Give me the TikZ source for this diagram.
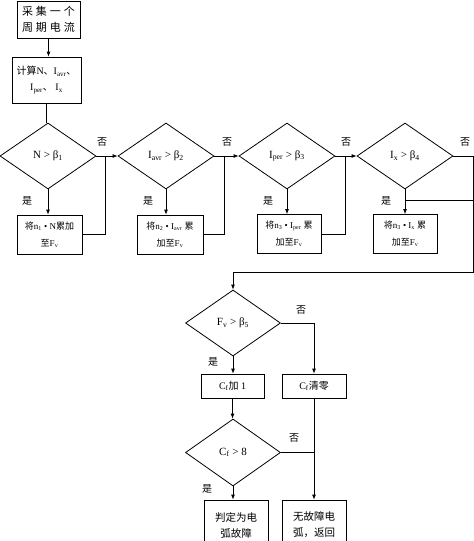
\documentclass[tikz,border=0pt]{standalone}
\usepackage{fontspec}
\setmainfont{Liberation Serif}
\newfontfamily\cjk{Noto Sans CJK SC}
\usetikzlibrary{shapes.geometric,arrows.meta}
\newcommand{\zh}[1]{{\cjk #1}}
\begin{document}
\begin{tikzpicture}[x=1pt,y=-1pt,
  every path/.style={line width=0.8pt},
  box/.style={draw, line width=0.8pt, inner sep=0pt, align=center},
  dia/.style={draw, diamond, minimum width=96pt, minimum height=66pt, inner sep=0pt, line width=0.8pt, font=\fontsize{11}{13}\selectfont},
  acc/.style={box, minimum width=65pt, minimum height=39pt, font=\fontsize{9}{17}\selectfont},
  lab/.style={font=\fontsize{10}{12}\selectfont\cjk, inner sep=0pt},
  arr/.style={-{Latex[length=5pt,width=4pt]}}]
\useasboundingbox (0,0) rectangle (474,541);
% top boxes
\node[box, minimum width=63pt, minimum height=37pt, font=\fontsize{11}{16}\selectfont] (b1) at (48.5,19.5)
  {\zh{采\hspace{3pt}集\hspace{3pt}一\hspace{3pt}个}\\\zh{周\hspace{3pt}期\hspace{3pt}电\hspace{3pt}流}};
\node[box, minimum width=69pt, minimum height=46pt, font=\fontsize{10}{16}\selectfont] (b2) at (46.5,80)
  {\zh{计算}N\zh{、}I\textsubscript{avr}\zh{、}\\I\textsubscript{per}\zh{、} I\textsubscript{x}};
% diamonds row
\node[dia] (d1) at (48,156) {N > β\textsubscript{1}};
\node[dia] (d2) at (166,156) {I\textsubscript{avr} > β\textsubscript{2}};
\node[dia] (d3) at (287,156) {I\textsubscript{per} > β\textsubscript{3}};
\node[dia] (d4) at (405,156) {I\textsubscript{x} > β\textsubscript{4}};
% accumulate boxes
\node[acc] (a1) at (49.5,234.5) {\zh{将}n\textsubscript{1} • N\zh{累加}\\\zh{至}F\textsubscript{v}};
\node[acc, minimum width=66pt] (a2) at (170,234.5) {\zh{将}n\textsubscript{2} • I\textsubscript{avr} \zh{累}\\\zh{加至}F\textsubscript{v}};
\node[acc, minimum width=64pt] (a3) at (289,234) {\zh{将}n\textsubscript{3} • I\textsubscript{per} \zh{累}\\\zh{加至}F\textsubscript{v}};
\node[acc, minimum width=64pt] (a4) at (405,234) {\zh{将}n\textsubscript{3} • I\textsubscript{x} \zh{累}\\\zh{加至}F\textsubscript{v}};
% lower part
\node[dia, minimum width=95pt] (d5) at (233,323) {F\textsubscript{v} > β\textsubscript{5}};
\node[box, minimum width=63pt, minimum height=24pt, font=\fontsize{10}{12}\selectfont] (c1) at (232.5,386) {C\textsubscript{f}\zh{加} 1};
\node[box, minimum width=64pt, minimum height=24pt, font=\fontsize{10}{12}\selectfont] (c2) at (314,386) {C\textsubscript{f}\zh{清零}};
\node[dia, minimum width=95pt, minimum height=67pt] (d6) at (233,452.5) {C\textsubscript{f} > 8};
\node[box, minimum width=64pt, minimum height=50pt, font=\fontsize{10.5}{16}\selectfont] (e1) at (236,525) {\zh{判定为电}\\\zh{弧故障}};
\node[box, minimum width=64pt, minimum height=50pt, font=\fontsize{10.5}{16}\selectfont] (e2) at (314,525) {\zh{无故障电}\\\zh{弧，返回}};
% junction coordinates
\coordinate (j1) at (105,156);
\coordinate (j2) at (224,156);
\coordinate (j3) at (345,156);
\coordinate (r1) at (473,156);
\coordinate (r2) at (473,272);
\coordinate (r3) at (233,272);
\coordinate (k4) at (405,200);
\coordinate (k4r) at (473,200);
% connectors
\draw[arr] (b1.south) -- (b1.south |- b2.north);
\draw (b2.south) -- (b2.south |- d1.north);
\draw[arr] (d1.east) -- (d2.west);
\draw[arr] (d2.east) -- (d3.west);
\draw[arr] (d3.east) -- (d4.west);
\draw (d4.east) -- (r1) -- (r2) -- (r3);
\draw[arr] (r3) -- (d5.north);
\draw (a1.east) -| (j1);
\draw (a2.east) -| (j2);
\draw (a3.east) -| (j3);
\draw (k4) -- (k4r);
\draw[arr] (d1.south) -- (d1.south |- a1.north);
\draw[arr] (d2.south) -- (d2.south |- a2.north);
\draw[arr] (d3.south) -- (d3.south |- a3.north);
\draw[arr] (d4.south) -- (d4.south |- a4.north);
\draw[arr] (d5.south) -- (d5.south |- c1.north);
\draw[arr] (d5.east) -| (c2.north);
\draw[arr] (c1.south) -- (c1.south |- d6.north);
\draw[arr] (d6.south) -- (d6.south |- e1.north);
\draw (d6.east) -- (d6.east -| c2.south);
\draw[arr] (c2.south) -- (e2.north);
% labels
\node[lab] (n1) at (102,142) {否};
\node[lab] (n2) at (227,142) {否};
\node[lab] (n3) at (346,142) {否};
\node[lab] (n4) at (465,142) {否};
\node[lab] (n5) at (301,310) {否};
\node[lab] (n6) at (294,438) {否};
\node[lab] (y1) at (27,201) {是};
\node[lab] (y2) at (148,201) {是};
\node[lab] (y3) at (268,201) {是};
\node[lab] (y4) at (386,201) {是};
\node[lab] (y5) at (213,362) {是};
\node[lab] (y6) at (207,489) {是};
\end{tikzpicture}
\end{document}
